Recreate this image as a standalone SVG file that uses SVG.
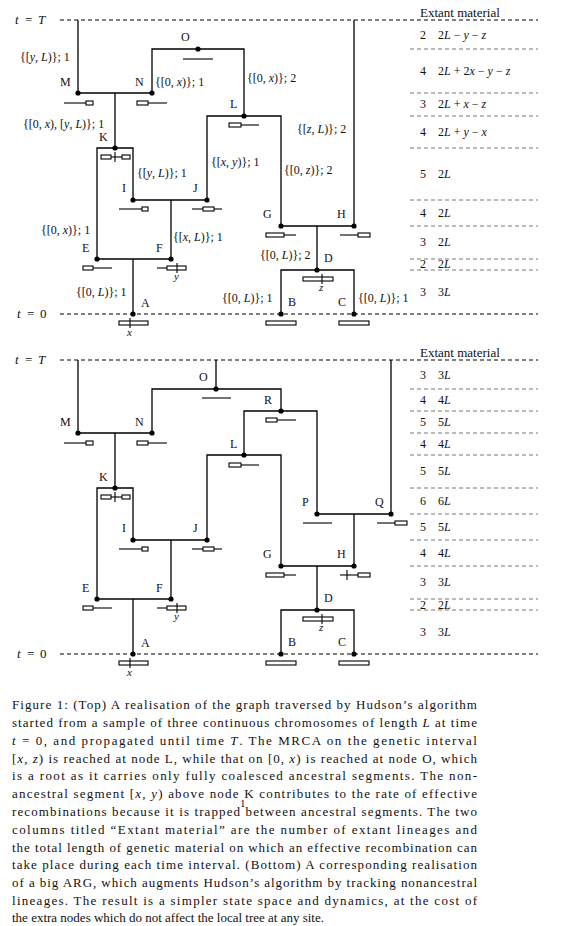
<svg xmlns="http://www.w3.org/2000/svg" width="564" height="926" viewBox="0 0 564 926">
<style>
.t{stroke:#000;stroke-width:1.3;fill:none}
.dot{fill:#000}
.ml{stroke:#000;stroke-width:1.1}
.mr{fill:#fff;stroke:#000;stroke-width:1.1}
.axis{stroke:#000;stroke-width:1;stroke-dasharray:4 3}
.grid{stroke:#666;stroke-width:0.9;stroke-dasharray:4 3}
text{font-family:"Liberation Serif","DejaVu Serif",serif;font-size:12px;fill:#111}
.i{font-style:italic}
.sm{font-size:11px}
.ax{font-size:13px}
.cap{font-size:13px}
.pg{font-size:11px}
</style>
<rect width="564" height="926" fill="#fff"/>

<!-- ================= TOP DIAGRAM ================= -->
<g id="top-axes">
  <line class="axis" x1="60" y1="20" x2="538" y2="20"/>
  <line class="axis" x1="60" y1="314" x2="538" y2="314"/>
  <text class="ax" x="15" y="24"><tspan class="i">t</tspan><tspan x="25">=</tspan><tspan x="38" class="i">T</tspan></text>
  <text class="ax" x="17" y="318"><tspan class="i">t</tspan><tspan x="27">=</tspan><tspan x="40">0</tspan></text>
</g>
<g id="top-connectors">
  <path class="t" d="M78,20 V93 H152"/>
  <path class="t" d="M115,93 V148"/>
  <path class="t" d="M152,93 V49 H244 V116"/>
  <path class="t" d="M97,259 V148 H133 V200 H207"/>
  <path class="t" d="M207,200 V116 H281 V226 H354"/>
  <path class="t" d="M171,200 V259"/>
  <path class="t" d="M97,259 H171"/>
  <path class="t" d="M133,259 V314"/>
  <path class="t" d="M354,20 V226"/>
  <path class="t" d="M317,226 V270"/>
  <path class="t" d="M281,314 V270 H354 V314"/>
</g>
<g id="top-branch-labels">
  <text x="20" y="61">{[<tspan class="i">y</tspan>, <tspan class="i">L</tspan>)}; 1</text>
  <text x="155" y="86">{[0, <tspan class="i">x</tspan>)}; 1</text>
  <text x="247" y="82">{[0, <tspan class="i">x</tspan>)}; 2</text>
  <text x="23" y="128">{[0, <tspan class="i">x</tspan>), [<tspan class="i">y</tspan>, <tspan class="i">L</tspan>)}; 1</text>
  <text x="297" y="133">{[<tspan class="i">z</tspan>, <tspan class="i">L</tspan>)}; 2</text>
  <text x="211" y="166">{[<tspan class="i">x</tspan>, <tspan class="i">y</tspan>)}; 1</text>
  <text x="137" y="177">{[<tspan class="i">y</tspan>, <tspan class="i">L</tspan>)}; 1</text>
  <text x="284" y="174">{[0, <tspan class="i">z</tspan>)}; 2</text>
  <text x="41" y="234">{[0, <tspan class="i">x</tspan>)}; 1</text>
  <text x="173" y="241">{[<tspan class="i">x</tspan>, <tspan class="i">L</tspan>)}; 1</text>
  <text x="260" y="259">{[0, <tspan class="i">L</tspan>)}; 2</text>
  <text x="76" y="296">{[0, <tspan class="i">L</tspan>)}; 1</text>
  <text x="222" y="302">{[0, <tspan class="i">L</tspan>)}; 1</text>
  <text x="358" y="302">{[0, <tspan class="i">L</tspan>)}; 1</text>
</g>
<g id="top-O"><circle class="dot" cx="198" cy="49" r="2.6"/><text x="181" y="41">O</text><line class="ml" x1="183" y1="59" x2="213" y2="59"/></g>
<g id="top-M"><circle class="dot" cx="78" cy="93" r="2.6"/><text x="60" y="86">M</text><line class="ml" x1="64" y1="103" x2="86" y2="103"/><rect class="mr" x="86" y="101" width="7" height="4"/></g>
<g id="top-N"><circle class="dot" cx="152" cy="93" r="2.6"/><text x="135" y="86">N</text><rect class="mr" x="137" y="101" width="11" height="4"/><line class="ml" x1="148" y1="103" x2="167" y2="103"/></g>
<g id="top-L"><circle class="dot" cx="244" cy="116" r="2.6"/><text x="230" y="108">L</text><rect class="mr" x="229" y="123" width="12" height="4"/><line class="ml" x1="241" y1="125" x2="259" y2="125"/></g>
<g id="top-K"><circle class="dot" cx="115" cy="148" r="2.6"/><text x="99" y="141">K</text><rect class="mr" x="101" y="155" width="10" height="4"/><line class="ml" x1="111" y1="157" x2="122" y2="157"/><rect class="mr" x="122" y="155" width="8" height="4"/><line class="ml" x1="115" y1="152" x2="115" y2="162"/></g>
<g id="top-I"><circle class="dot" cx="133" cy="200" r="2.6"/><text x="122" y="192">I</text><line class="ml" x1="119" y1="209" x2="142" y2="209"/><rect class="mr" x="142" y="207" width="6" height="4"/></g>
<g id="top-J"><circle class="dot" cx="207" cy="200" r="2.6"/><text x="193" y="192">J</text><line class="ml" x1="192" y1="209" x2="222" y2="209"/><rect class="mr" x="203" y="207" width="11" height="4"/></g>
<g id="top-G"><circle class="dot" cx="281" cy="226" r="2.6"/><text x="263" y="218">G</text><rect class="mr" x="266" y="233" width="18" height="4"/><line class="ml" x1="284" y1="235" x2="296" y2="235"/></g>
<g id="top-H"><circle class="dot" cx="354" cy="226" r="2.6"/><text x="337" y="218">H</text><line class="ml" x1="340" y1="235" x2="358" y2="235"/><rect class="mr" x="358" y="233" width="12" height="4"/></g>
<g id="top-E"><circle class="dot" cx="97" cy="259" r="2.6"/><text x="82" y="252">E</text><rect class="mr" x="83" y="266" width="10" height="4"/><line class="ml" x1="93" y1="268" x2="112" y2="268"/></g>
<g id="top-F"><circle class="dot" cx="171" cy="259" r="2.6"/><text x="156" y="252">F</text><line class="ml" x1="157" y1="268" x2="167" y2="268"/><rect class="mr" x="167" y="266" width="19" height="4"/><line class="ml" x1="177" y1="263" x2="177" y2="273"/><text x="174" y="280" class="i sm">y</text></g>
<g id="top-D"><circle class="dot" cx="317" cy="270" r="2.6"/><text x="324" y="262">D</text><rect class="mr" x="303" y="277" width="30" height="4"/><line class="ml" x1="322" y1="274" x2="322" y2="284"/><text x="319" y="291" class="i sm">z</text></g>
<g id="top-A"><circle class="dot" cx="133" cy="314" r="2.6"/><text x="141" y="307">A</text><rect class="mr" x="119" y="321" width="29" height="4"/><line class="ml" x1="130" y1="318" x2="130" y2="328"/><text x="127" y="336" class="i sm">x</text></g>
<g id="top-B"><circle class="dot" cx="281" cy="314" r="2.6"/><text x="288" y="306">B</text><rect class="mr" x="266" y="321" width="30" height="4"/></g>
<g id="top-C"><circle class="dot" cx="354" cy="314" r="2.6"/><text x="338" y="306">C</text><rect class="mr" x="339" y="321" width="30" height="4"/></g>
<g id="top-table">
  <text class="ax" x="420" y="17">Extant material</text>
  <line class="grid" x1="410" y1="49" x2="538" y2="49"/>
  <line class="grid" x1="410" y1="93" x2="538" y2="93"/>
  <line class="grid" x1="410" y1="116" x2="538" y2="116"/>
  <line class="grid" x1="410" y1="148" x2="538" y2="148"/>
  <line class="grid" x1="410" y1="200" x2="538" y2="200"/>
  <line class="grid" x1="410" y1="226" x2="538" y2="226"/>
  <line class="grid" x1="410" y1="259" x2="538" y2="259"/>
  <line class="grid" x1="410" y1="270" x2="538" y2="270"/>
  <text x="420" y="39">2<tspan x="438">2</tspan><tspan class="i">L</tspan> − <tspan class="i">y</tspan> − <tspan class="i">z</tspan></text>
  <text x="420" y="75">4<tspan x="438">2</tspan><tspan class="i">L</tspan> + 2<tspan class="i">x</tspan> − <tspan class="i">y</tspan> − <tspan class="i">z</tspan></text>
  <text x="420" y="108">3<tspan x="438">2</tspan><tspan class="i">L</tspan> + <tspan class="i">x</tspan> − <tspan class="i">z</tspan></text>
  <text x="420" y="136">4<tspan x="438">2</tspan><tspan class="i">L</tspan> + <tspan class="i">y</tspan> − <tspan class="i">x</tspan></text>
  <text x="420" y="178">5<tspan x="438">2</tspan><tspan class="i">L</tspan></text>
  <text x="420" y="217">4<tspan x="438">2</tspan><tspan class="i">L</tspan></text>
  <text x="420" y="246">3<tspan x="438">2</tspan><tspan class="i">L</tspan></text>
  <text x="420" y="268">2<tspan x="438">2</tspan><tspan class="i">L</tspan></text>
  <text x="420" y="296">3<tspan x="438">3</tspan><tspan class="i">L</tspan></text>
</g>

<!-- ================= BOTTOM DIAGRAM ================= -->
<g id="bot-axes">
  <line class="axis" x1="60" y1="360" x2="538" y2="360"/>
  <line class="axis" x1="60" y1="654" x2="538" y2="654"/>
  <text class="ax" x="15" y="364"><tspan class="i">t</tspan><tspan x="25">=</tspan><tspan x="38" class="i">T</tspan></text>
  <text class="ax" x="17" y="658"><tspan class="i">t</tspan><tspan x="27">=</tspan><tspan x="40">0</tspan></text>
</g>
<g id="bot-connectors">
  <path class="t" d="M78,360 V433 H152"/>
  <path class="t" d="M115,433 V488"/>
  <path class="t" d="M152,433 V389 H281 V411"/>
  <path class="t" d="M216,360 V389"/>
  <path class="t" d="M244,455 V411 H317 V514 H391"/>
  <path class="t" d="M391,360 V514"/>
  <path class="t" d="M97,599 V488 H133 V540 H207"/>
  <path class="t" d="M207,540 V455 H281 V566 H354"/>
  <path class="t" d="M354,514 V566"/>
  <path class="t" d="M171,540 V599"/>
  <path class="t" d="M97,599 H171"/>
  <path class="t" d="M133,599 V654"/>
  <path class="t" d="M317,566 V610"/>
  <path class="t" d="M281,654 V610 H354 V654"/>
</g>
<g id="bot-O"><circle class="dot" cx="216" cy="389" r="2.6"/><text x="199" y="381">O</text><line class="ml" x1="202" y1="398" x2="231" y2="398"/></g>
<g id="bot-R"><circle class="dot" cx="281" cy="411" r="2.6"/><text x="264" y="404">R</text><rect class="mr" x="266" y="418" width="11" height="4"/><line class="ml" x1="277" y1="420" x2="296" y2="420"/></g>
<g id="bot-M"><circle class="dot" cx="78" cy="433" r="2.6"/><text x="60" y="426">M</text><line class="ml" x1="64" y1="443" x2="86" y2="443"/><rect class="mr" x="86" y="441" width="7" height="4"/></g>
<g id="bot-N"><circle class="dot" cx="152" cy="433" r="2.6"/><text x="135" y="426">N</text><rect class="mr" x="137" y="441" width="11" height="4"/><line class="ml" x1="148" y1="443" x2="167" y2="443"/></g>
<g id="bot-L"><circle class="dot" cx="244" cy="455" r="2.6"/><text x="230" y="448">L</text><rect class="mr" x="229" y="463" width="12" height="4"/><line class="ml" x1="241" y1="465" x2="259" y2="465"/></g>
<g id="bot-K"><circle class="dot" cx="115" cy="488" r="2.6"/><text x="99" y="481">K</text><rect class="mr" x="101" y="495" width="10" height="4"/><line class="ml" x1="111" y1="497" x2="122" y2="497"/><rect class="mr" x="122" y="495" width="8" height="4"/><line class="ml" x1="115" y1="492" x2="115" y2="502"/></g>
<g id="bot-P"><circle class="dot" cx="317" cy="514" r="2.6"/><text x="302" y="506">P</text><line class="ml" x1="303" y1="523" x2="332" y2="523"/></g>
<g id="bot-Q"><circle class="dot" cx="391" cy="514" r="2.6"/><text x="375" y="506">Q</text><line class="ml" x1="377" y1="523" x2="395" y2="523"/><rect class="mr" x="395" y="521" width="12" height="4"/></g>
<g id="bot-I"><circle class="dot" cx="133" cy="540" r="2.6"/><text x="122" y="532">I</text><line class="ml" x1="119" y1="549" x2="142" y2="549"/><rect class="mr" x="142" y="547" width="6" height="4"/></g>
<g id="bot-J"><circle class="dot" cx="207" cy="540" r="2.6"/><text x="193" y="532">J</text><line class="ml" x1="192" y1="549" x2="222" y2="549"/><rect class="mr" x="203" y="547" width="11" height="4"/></g>
<g id="bot-G"><circle class="dot" cx="281" cy="566" r="2.6"/><text x="263" y="558">G</text><rect class="mr" x="266" y="573" width="18" height="4"/><line class="ml" x1="284" y1="575" x2="296" y2="575"/></g>
<g id="bot-H"><circle class="dot" cx="354" cy="566" r="2.6"/><text x="337" y="558">H</text><line class="ml" x1="340" y1="575" x2="358" y2="575"/><rect class="mr" x="358" y="573" width="12" height="4"/><line class="ml" x1="347" y1="570" x2="347" y2="580"/></g>
<g id="bot-E"><circle class="dot" cx="97" cy="599" r="2.6"/><text x="82" y="592">E</text><rect class="mr" x="83" y="606" width="10" height="4"/><line class="ml" x1="93" y1="608" x2="112" y2="608"/></g>
<g id="bot-F"><circle class="dot" cx="171" cy="599" r="2.6"/><text x="156" y="592">F</text><line class="ml" x1="157" y1="608" x2="167" y2="608"/><rect class="mr" x="167" y="606" width="19" height="4"/><line class="ml" x1="177" y1="603" x2="177" y2="613"/><text x="174" y="620" class="i sm">y</text></g>
<g id="bot-D"><circle class="dot" cx="317" cy="610" r="2.6"/><text x="324" y="602">D</text><rect class="mr" x="303" y="617" width="30" height="4"/><line class="ml" x1="322" y1="614" x2="322" y2="624"/><text x="319" y="631" class="i sm">z</text></g>
<g id="bot-A"><circle class="dot" cx="133" cy="654" r="2.6"/><text x="141" y="647">A</text><rect class="mr" x="119" y="661" width="29" height="4"/><line class="ml" x1="130" y1="658" x2="130" y2="668"/><text x="127" y="676" class="i sm">x</text></g>
<g id="bot-B"><circle class="dot" cx="281" cy="654" r="2.6"/><text x="288" y="646">B</text><rect class="mr" x="266" y="661" width="30" height="4"/></g>
<g id="bot-C"><circle class="dot" cx="354" cy="654" r="2.6"/><text x="338" y="646">C</text><rect class="mr" x="339" y="661" width="30" height="4"/></g>
<g id="bot-table">
  <text class="ax" x="420" y="357">Extant material</text>
  <line class="grid" x1="410" y1="389" x2="538" y2="389"/>
  <line class="grid" x1="410" y1="411" x2="538" y2="411"/>
  <line class="grid" x1="410" y1="433" x2="538" y2="433"/>
  <line class="grid" x1="410" y1="455" x2="538" y2="455"/>
  <line class="grid" x1="410" y1="488" x2="538" y2="488"/>
  <line class="grid" x1="410" y1="514" x2="538" y2="514"/>
  <line class="grid" x1="410" y1="540" x2="538" y2="540"/>
  <line class="grid" x1="410" y1="566" x2="538" y2="566"/>
  <line class="grid" x1="410" y1="599" x2="538" y2="599"/>
  <line class="grid" x1="410" y1="610" x2="538" y2="610"/>
  <text x="420" y="379">3<tspan x="438">3</tspan><tspan class="i">L</tspan></text>
  <text x="420" y="404">4<tspan x="438">4</tspan><tspan class="i">L</tspan></text>
  <text x="420" y="426">5<tspan x="438">5</tspan><tspan class="i">L</tspan></text>
  <text x="420" y="448">4<tspan x="438">4</tspan><tspan class="i">L</tspan></text>
  <text x="420" y="475">5<tspan x="438">5</tspan><tspan class="i">L</tspan></text>
  <text x="420" y="505">6<tspan x="438">6</tspan><tspan class="i">L</tspan></text>
  <text x="420" y="531">5<tspan x="438">5</tspan><tspan class="i">L</tspan></text>
  <text x="420" y="557">4<tspan x="438">4</tspan><tspan class="i">L</tspan></text>
  <text x="420" y="586">3<tspan x="438">3</tspan><tspan class="i">L</tspan></text>
  <text x="420" y="609">2<tspan x="438">2</tspan><tspan class="i">L</tspan></text>
  <text x="420" y="636">3<tspan x="438">3</tspan><tspan class="i">L</tspan></text>
</g>

<!-- ================= CAPTION ================= -->
<g id="caption">
  <text class="cap" x="12" y="709" textLength="465" lengthAdjust="spacing">Figure 1: (Top) A realisation of the graph traversed by Hudson’s algorithm</text>
  <text class="cap" x="12" y="727" textLength="465" lengthAdjust="spacing">started from a sample of three continuous chromosomes of length <tspan class="i">L</tspan> at time</text>
  <text class="cap" x="12" y="745" textLength="465" lengthAdjust="spacing"><tspan class="i">t</tspan> = 0, and propagated until time <tspan class="i">T</tspan>. The MRCA on the genetic interval</text>
  <text class="cap" x="12" y="763" textLength="465" lengthAdjust="spacing">[<tspan class="i">x</tspan>, <tspan class="i">z</tspan>) is reached at node L, while that on [0, <tspan class="i">x</tspan>) is reached at node O, which</text>
  <text class="cap" x="12" y="780" textLength="465" lengthAdjust="spacing">is a root as it carries only fully coalesced ancestral segments. The non-</text>
  <text class="cap" x="12" y="798" textLength="465" lengthAdjust="spacing">ancestral segment [<tspan class="i">x</tspan>, <tspan class="i">y</tspan>) above node K contributes to the rate of effective</text>
  <text class="cap" x="12" y="816" textLength="465" lengthAdjust="spacing">recombinations because it is trapped between ancestral segments. The two</text>
  <text class="pg" x="240" y="807">1</text>
  <text class="cap" x="12" y="834" textLength="465" lengthAdjust="spacing">columns titled “Extant material” are the number of extant lineages and</text>
  <text class="cap" x="12" y="852" textLength="465" lengthAdjust="spacing">the total length of genetic material on which an effective recombination can</text>
  <text class="cap" x="12" y="869" textLength="465" lengthAdjust="spacing">take place during each time interval. (Bottom) A corresponding realisation</text>
  <text class="cap" x="12" y="887" textLength="465" lengthAdjust="spacing">of a big ARG, which augments Hudson’s algorithm by tracking nonancestral</text>
  <text class="cap" x="12" y="905" textLength="465" lengthAdjust="spacing">lineages. The result is a simpler state space and dynamics, at the cost of</text>
  <text class="cap" x="12" y="922">the extra nodes which do not affect the local tree at any site.</text>
</g>
</svg>
